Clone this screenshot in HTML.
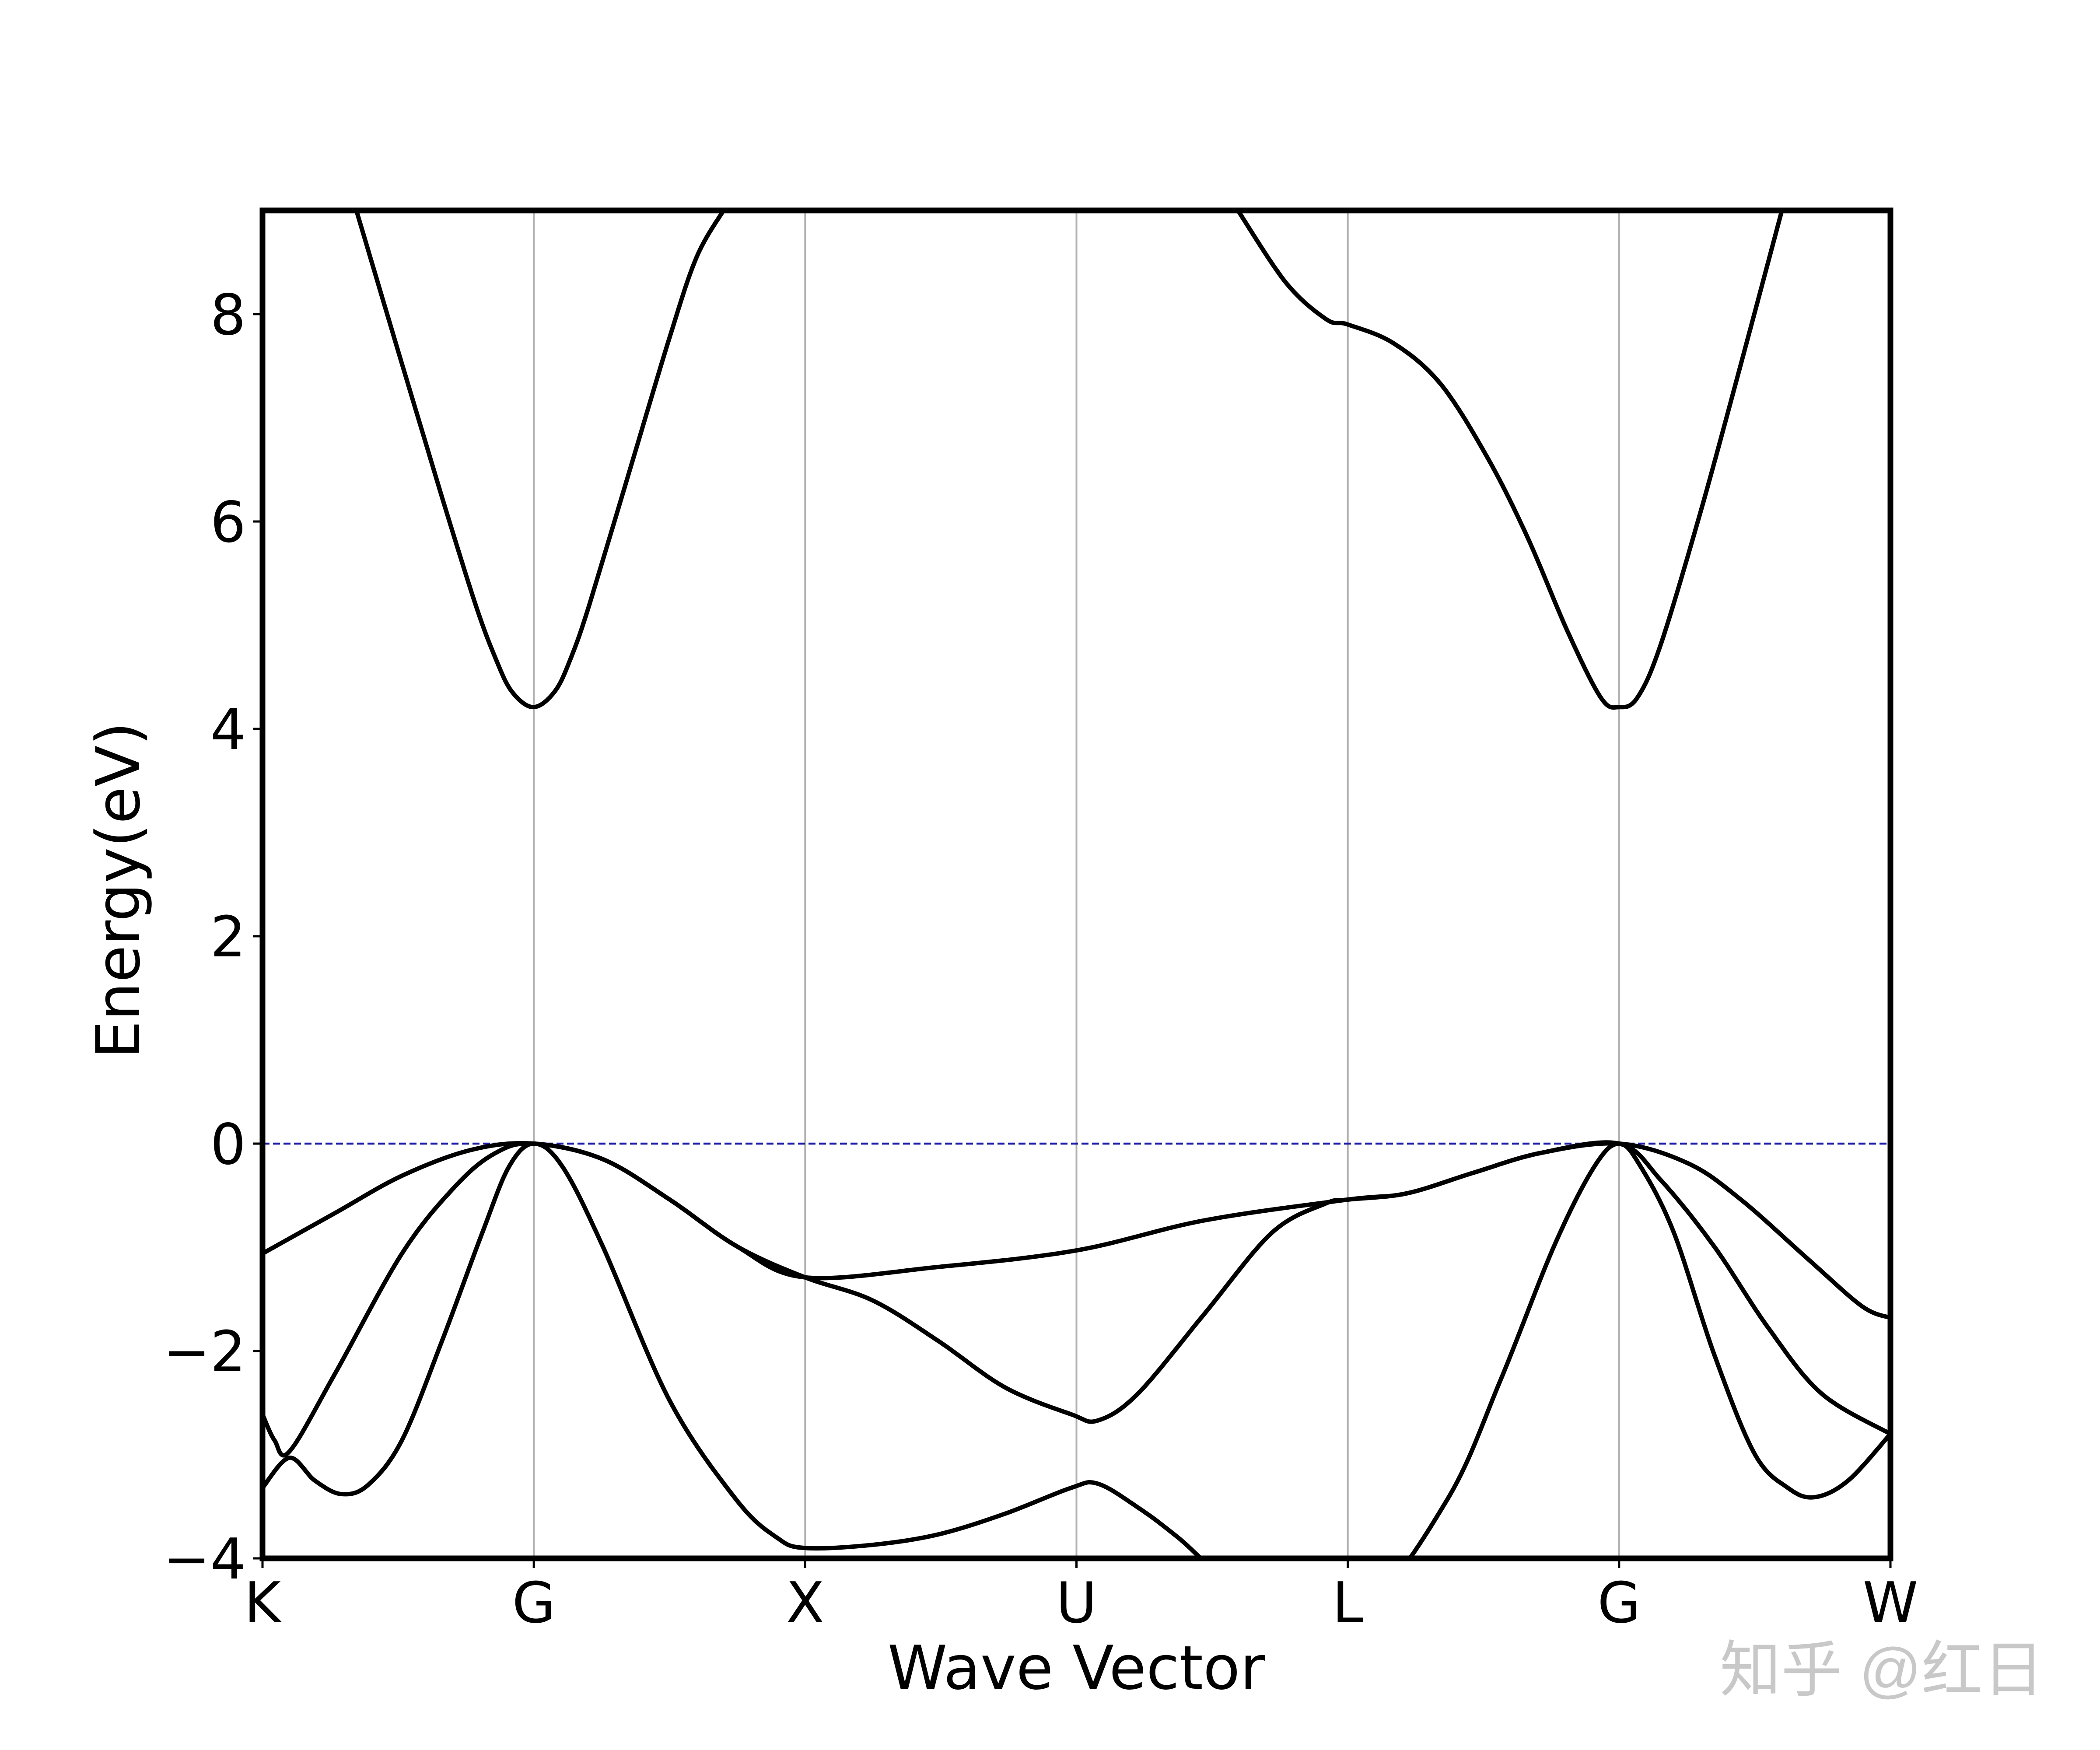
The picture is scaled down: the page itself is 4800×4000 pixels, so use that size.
<!DOCTYPE html>
<html><head><meta charset="utf-8">
<style>
html,body{margin:0;padding:0;background:#fff;}
svg{display:block;}
text{font-family:"DejaVu Sans","Liberation Sans",sans-serif;}
</style></head>
<body>
<svg id="chart" width="4800" height="4000" viewBox="0 0 4800 4000" xmlns="http://www.w3.org/2000/svg">
<defs><clipPath id="plotclip"><rect x="600" y="481" width="3721" height="3081"/></clipPath></defs>
<rect width="4800" height="4000" fill="#fff"/>
<g id="grid"></g>
<g id="bands" clip-path="url(#plotclip)"></g>
<g id="axes"></g>
<text x="2460" y="3860" font-size="138" text-anchor="middle">Wave Vector</text>
<text transform="translate(318,2035) rotate(-90)" font-size="138" text-anchor="middle">Energy(eV)</text>
<text x="4672" y="3865" font-size="140" text-anchor="end" fill="#c8c8c8" style="font-family:'Liberation Sans','Noto Sans CJK SC',sans-serif">知乎 @红日</text>
</svg>
<script>
const kLabels = ["K","G","X","U","L","G","W"];
const kPositions = [0,1,2,3,4,5,6];
const yTicks = [-4,-2,0,2,4,6,8];
const yTickLabels = ["\u22124","\u22122","0","2","4","6","8"];
const fermiLevel = 0;
const cond1 = [[0.346,9.0],[0.514,7.52],[0.662,6.23],[0.785,5.2],[0.859,4.68],[0.919,4.36],[0.998,4.21],[1.077,4.36],[1.136,4.68],[1.205,5.2],[1.353,6.49],[1.501,7.78],[1.6,8.55],[1.699,9.0]];
const cond2 = [[3.595,9.0],[3.773,8.3],[3.921,7.95],[4.0,7.9],[4.168,7.72],[4.341,7.33],[4.514,6.62],[4.662,5.85],[4.81,4.94],[4.933,4.3],[5.0,4.21],[5.067,4.3],[5.153,4.81],[5.301,6.1],[5.449,7.52],[5.6,9.0]];
const valA = [[0,-1.06],[0.267,-0.67],[0.514,-0.31],[0.77,-0.06],[1.0,0],[1.254,-0.15],[1.501,-0.54],[1.748,-0.99],[2.0,-1.29],[2.489,-1.19],[3.0,-1.03],[3.472,-0.74],[4.0,-0.54],[4.217,-0.48],[4.464,-0.28],[4.711,-0.09],[5.0,0],[5.254,-0.19],[5.449,-0.54],[5.699,-1.12],[5.896,-1.57],[6.0,-1.68]];
const valB = [[0,-2.61],[0.044,-2.86],[0.099,-2.97],[0.267,-2.22],[0.514,-1.06],[0.711,-0.41],[0.859,-0.09],[1.0,0],[1.254,-0.15],[1.501,-0.54],[1.748,-0.99],[2.0,-1.29],[2.247,-1.51],[2.489,-1.9],[2.736,-2.35],[2.98,-2.61],[3.079,-2.67],[3.227,-2.41],[3.472,-1.64],[3.72,-0.86],[3.916,-0.58],[4.0,-0.54],[4.217,-0.48],[4.464,-0.28],[4.711,-0.09],[5.0,0],[5.153,-0.35],[5.35,-0.99],[5.548,-1.77],[5.746,-2.41],[6.0,-2.8]];
const valC = [[0,-3.32],[0.099,-3.03],[0.193,-3.25],[0.291,-3.38],[0.39,-3.29],[0.514,-2.86],[0.662,-1.9],[0.81,-0.86],[0.909,-0.22],[1.0,0],[1.105,-0.22],[1.254,-0.99],[1.501,-2.48],[1.748,-3.44],[1.896,-3.8],[2.0,-3.9],[2.247,-3.87],[2.489,-3.77],[2.736,-3.57],[2.98,-3.32],[3.079,-3.28],[3.227,-3.51],[3.375,-3.8],[3.7,-4.5],[4.05,-4.5],[4.365,-3.44],[4.563,-2.28],[4.76,-0.99],[4.909,-0.22],[5.0,0],[5.079,-0.22],[5.202,-0.86],[5.35,-2.03],[5.499,-2.99],[5.622,-3.32],[5.72,-3.41],[5.844,-3.25],[6.0,-2.8]];
const bandList = [cond1,cond2,valA,valB,valC];
const bandNames = ["conduction-band-1","conduction-band-2","valence-band-1","valence-band-2","valence-band-3"];

const X0=600,X1=4321,Y0=481,Y1=3562,KMAX=6,EMIN=-4,EMAX=9;
const xs = k => X0 + (k/KMAX)*(X1-X0);
const ys = e => Y1 - (e-EMIN)/(EMAX-EMIN)*(Y1-Y0);
const NS="http://www.w3.org/2000/svg";
function mk(tag, attrs, parent){const el=document.createElementNS(NS,tag);for(const a in attrs)el.setAttribute(a,attrs[a]);parent.appendChild(el);return el;}
const grid=document.getElementById('grid'), bandsG=document.getElementById('bands'), axes=document.getElementById('axes');

kPositions.forEach((k,i)=>{
  if(i>0 && i<kPositions.length-1){
    const l=mk('line',{x1:xs(k),x2:xs(k),y1:Y0,y2:Y1,stroke:'#b0b0b0','stroke-width':4},grid);
    
    
  }
  const t=mk('line',{x1:xs(k),x2:xs(k),y1:Y1,y2:Y1+22,stroke:'#000','stroke-width':5},axes);
  
  
  const tx=mk('text',{x:xs(k),y:Y1+146,'font-size':128,'text-anchor':'middle'},axes);
  tx.textContent=kLabels[i];
  
  
});
yTicks.forEach((v,i)=>{
  const t=mk('line',{x1:X0-22,x2:X0,y1:ys(v),y2:ys(v),stroke:'#000','stroke-width':5},axes);
  
  
  const tx=mk('text',{x:X0-38,y:ys(v)+46,'font-size':128,'text-anchor':'end'},axes);
  tx.textContent=yTickLabels[i];
  
  
});
const fl=mk('line',{x1:X0,x2:X1,y1:ys(fermiLevel),y2:ys(fermiLevel),stroke:'#1a1aa8','stroke-width':4.5,'stroke-dasharray':'16,8'},grid);



function smoothPath(pts){
  const p=pts.map(q=>[xs(q[0]),ys(q[1])]);
  let d='M'+p[0][0]+','+p[0][1];
  for(let i=0;i<p.length-1;i++){
    const p0=p[i-1]||p[i],p1=p[i],p2=p[i+1],p3=p[i+2]||p2;
    const c1=[p1[0]+(p2[0]-p0[0])/6,p1[1]+(p2[1]-p0[1])/6];
    const c2=[p2[0]-(p3[0]-p1[0])/6,p2[1]-(p3[1]-p1[1])/6];
    d+=' C'+c1[0]+','+c1[1]+' '+c2[0]+','+c2[1]+' '+p2[0]+','+p2[1];
  }
  return d;
}
bandList.forEach((b,i)=>{
  const path=mk('path',{d:smoothPath(b),fill:'none',stroke:'#000','stroke-width':10,'stroke-linejoin':'round'},bandsG);
  
  
});
const fr=mk('rect',{x:X0,y:Y0,width:X1-X0,height:Y1-Y0,fill:'none',stroke:'#000','stroke-width':13},axes);


</script>
</body></html>
